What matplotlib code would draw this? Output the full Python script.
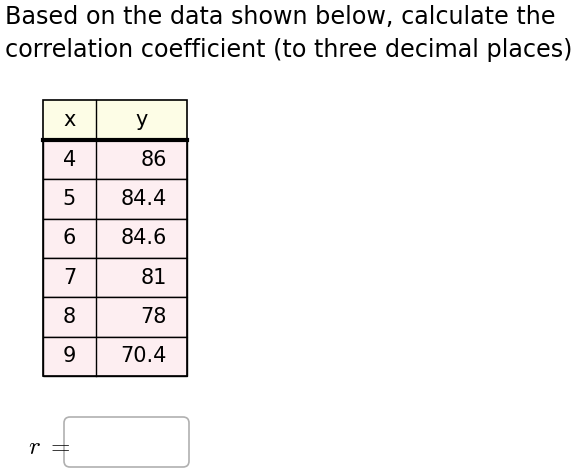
import matplotlib
matplotlib.use("Agg")
import matplotlib.pyplot as plt
from matplotlib.patches import Rectangle, FancyBboxPatch

title_lines = ["Based on the data shown below, calculate the",
               "correlation coefficient (to three decimal places)"]
headers = ["x", "y"]
x_vals = ["4", "5", "6", "7", "8", "9"]
y_vals = ["86", "84.4", "84.6", "81", "78", "70.4"]

plt.rcParams["mathtext.fontset"] = "cm"
fig = plt.figure(figsize=(5.77, 4.75), dpi=100)
ax = fig.add_axes([0, 0, 1, 1])
ax.set_xlim(0, 577); ax.set_ylim(475, 0); ax.axis("off")

font = "DejaVu Sans"
ax.text(5, 17, title_lines[0], fontsize=17.2, va="center", ha="left", family=font)
ax.text(5, 50, title_lines[1], fontsize=17.2, va="center", ha="left", family=font)

L, M, R = 43, 96, 187
top, hdr = 100, 140
rh = 39.3
ax.add_patch(Rectangle((L, top), R - L, hdr - top, facecolor="#fdfde6", edgecolor="none"))
ax.text((L + M) / 2, (top + hdr) / 2, headers[0], fontsize=15, ha="center", va="center", family=font)
ax.text((M + R) / 2, (top + hdr) / 2, headers[1], fontsize=15, ha="center", va="center", family=font)
for i, (xv, yv) in enumerate(zip(x_vals, y_vals)):
    y0 = hdr + i * rh
    ax.add_patch(Rectangle((L, y0), R - L, rh, facecolor="#fdeef1", edgecolor="black", lw=1))
    ax.text((L + M) / 2, y0 + rh / 2, xv, fontsize=15, ha="center", va="center", family=font)
    ax.text(167, y0 + rh / 2, yv, fontsize=15, ha="right", va="center", family=font)
bottom = hdr + len(x_vals) * rh
ax.add_patch(Rectangle((L, top), R - L, bottom - top, facecolor="none", edgecolor="black", lw=1.2))
ax.plot([M, M], [top, bottom], color="black", lw=1)
ax.plot([L, R], [hdr, hdr], color="black", lw=3)

ax.text(28, 447, r"$r\ =$", fontsize=18, ha="left", va="center")
ax.add_patch(FancyBboxPatch((64, 417), 125, 50, boxstyle="round,pad=0,rounding_size=6",
                            facecolor="white", edgecolor="#b0b0b0", lw=1.2))

fig.savefig("out.png", dpi=100)
